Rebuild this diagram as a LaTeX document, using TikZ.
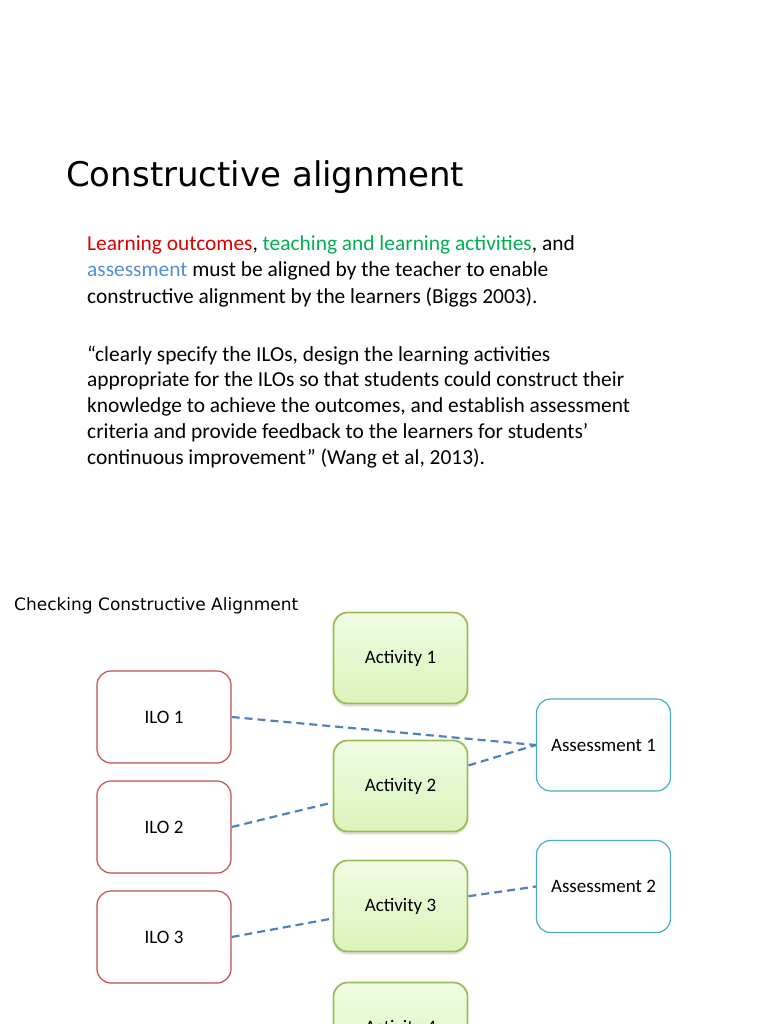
\documentclass[tikz,border=0pt]{standalone}
\usepackage{fontspec}
\setmainfont{Carlito}
\newfontfamily\titlefont{DejaVu Sans}
\usetikzlibrary{shadows}
\definecolor{ilocolor}{RGB}{192,80,77}
\definecolor{actcolor}{RGB}{155,187,89}
\definecolor{acttop}{RGB}{240,252,228}
\definecolor{actbottom}{RGB}{218,243,185}
\definecolor{asscolor}{RGB}{75,172,198}
\definecolor{linkcolor}{RGB}{79,129,189}
\definecolor{redtext}{RGB}{220,0,0}
\definecolor{greentext}{RGB}{0,176,80}
\definecolor{bluetext}{RGB}{85,142,213}
\tikzset{
  ilobox/.style  = {draw=ilocolor, line width=1.2pt, rounded corners=14pt, fill=white,
                    minimum width=134pt, minimum height=92pt, font=\fontsize{19}{22}\selectfont},
  actbox/.style  = {draw=actcolor, line width=1.8pt, rounded corners=14pt,
                    top color=acttop, bottom color=actbottom,
                    drop shadow={opacity=0.25, shadow xshift=0pt, shadow yshift=-3pt},
                    minimum width=134pt, minimum height=91pt, font=\fontsize{19}{22}\selectfont},
  assbox/.style  = {draw=asscolor, line width=1.2pt, rounded corners=14pt, fill=white,
                    minimum width=134pt, minimum height=92pt, font=\fontsize{19}{22}\selectfont},
  link/.style    = {draw=linkcolor, line width=2.2pt, dash pattern=on 8pt off 5pt},
}

\begin{document}
\begin{tikzpicture}[x=1pt, y=-1pt]
  \useasboundingbox (0,0) rectangle (768,1024);
  \clip (0,0) rectangle (768,1024);
  % heading and text
  \node[anchor=base west, inner sep=0pt, font=\titlefont\fontsize{34}{40}\selectfont]
    (title) at (66,187) {Constructive alignment};
  \node[anchor=base west, inner sep=0pt, align=left, font=\fontsize{21.4}{26.5}\selectfont]
    (biggs) at (87,303) {\textcolor{redtext}{Learning outcomes}, \textcolor{greentext}{teaching and learning activities}, and\\
      \textcolor{bluetext}{assessment} must be aligned by the teacher to enable\\
      constructive alignment by the learners (Biggs 2003).};
  \node[anchor=base west, inner sep=0pt, align=left, font=\fontsize{21.4}{25.75}\selectfont]
    (wang) at (87,464) {“clearly specify the ILOs, design the learning activities\\
      appropriate for the ILOs so that students could construct their\\
      knowledge to achieve the outcomes, and establish assessment\\
      criteria and provide feedback to the learners for students’\\
      continuous improvement” (Wang et al, 2013).};
  \node[anchor=base west, inner sep=0pt, font=\titlefont\fontsize{17}{20}\selectfont]
    (check) at (14,610) {Checking Constructive Alignment};
  % boxes
  \foreach \i/\y in {1/717, 2/827, 3/937}
    \node[ilobox] (ilo\i) at (164,\y) {ILO \i};
  \foreach \i/\y in {1/658, 2/786, 3/906, 4/1028}
    \node[actbox] (act\i) at (400.5,\y) {Activity \i};
  \node[assbox] (ass1) at (603.5,745) {Assessment 1};
  \node[assbox] (ass2) at (603.5,886.5) {Assessment 2};
  % links
  \draw[link] (ilo1.east) -- (ass1.west);
  \draw[link] (act2) -- (ass1.west);
  \draw[link] (ilo2.east) -- (act2);
  \draw[link] (ilo3.east) -- (act3);
  \draw[link] (act3) -- (ass2.west);
\end{tikzpicture}
\end{document}
